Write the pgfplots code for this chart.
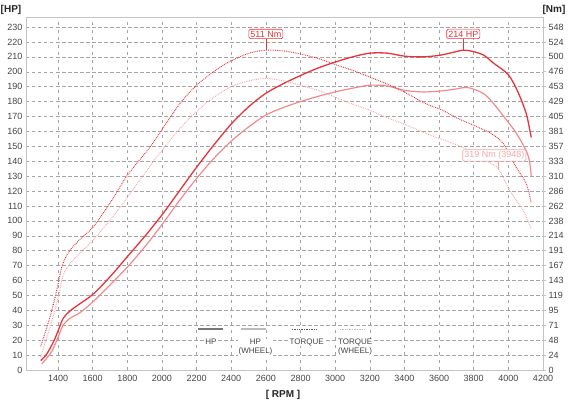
\documentclass[border=0pt]{standalone}
\usepackage{fontspec}
\setmainfont{Liberation Sans}
\usepackage{pgfplots}
\usepackage{pgfplotstable}
\pgfplotsset{compat=1.18}

\definecolor{hpred}{HTML}{E5343A}
\definecolor{hpwheel}{HTML}{F08A8E}
\definecolor{tqwheel}{HTML}{F5A5A8}
\definecolor{gridc}{HTML}{A4A4A4}
\definecolor{framec}{HTML}{C4C4C4}
\definecolor{labc}{HTML}{444444}
\definecolor{legdark}{HTML}{777777}
\definecolor{leglight}{HTML}{BBBBBB}

% engine power, HP
\pgfplotstableread{
rpm hp
1300 6.3
1330 10
1354 14.5
1380 20.5
1402 26.8
1430 34.7
1469 39.6
1527 44.5
1604 51
1700 62.5
1800 76
1900 89.5
2000 104
2100 120
2200 136
2300 151
2400 165
2500 176.5
2600 185.6
2700 192
2800 197.5
2900 202.5
3000 206.5
3100 210
3200 212.5
3300 212.5
3400 210.5
3500 210
3600 211
3680 213
3740 214.5
3800 213.5
3860 211
3912 206
4000 198
4057 186
4103 172
4122 162
4132 156
}\hptable

% wheel power, HP
\pgfplotstableread{
rpm hp
1306 4
1335 8
1363 12.3
1380 16.5
1402 22.4
1430 30.2
1469 34.7
1527 38.5
1604 46
1700 57
1800 69
1900 82.5
2000 97.5
2100 113.5
2200 128.5
2300 142
2400 153.5
2500 163
2600 171
2700 176
2800 180
2900 183.5
3000 186.5
3100 189
3200 191
3300 190.5
3400 187.6
3500 186.5
3600 187
3700 188.5
3764 189.5
3854 185.6
3912 179
3987 168
4045 159
4103 147
4122 140
4132 130
}\hpwheeltable

% engine torque, Nm
\pgfplotstableread{
rpm nm
1300 38
1354 85
1393 128
1422 165
1451 184
1470 192
1527 209
1604 229
1710 271
1800 311
1930 356
2000 384
2104 426
2200 455
2300 477
2385 492
2500 506
2600 511
2700 510
2800 505
2900 498
3000 488
3100 479
3200 468
3300 457
3400 444
3520 426
3620 415
3700 403
3800 391
3900 378
3970 362
4045 324
4103 298
4132 267
}\tqtable

% wheel torque, Nm
\pgfplotstableread{
rpm nm
1300 21
1354 69
1402 117
1430 152
1470 170
1527 187
1604 208
1748 256
1800 276
1900 314
2000 351
2104 386
2200 413
2300 436
2400 453
2500 462
2600 466
2700 462
2800 455
2900 447
3000 436
3100 425
3200 415
3300 403
3388 394
3500 381
3580 372
3700 360
3778 350
3850 338
3912 328
3948 319
4010 286
4086 255
4132 226
}\tqwheeltable

\pgfplotsset{
  enginebase/.style={
    scale only axis, width=517pt, height=353pt,
    xmin=1215, xmax=4200,
    /pgf/number format/assume math mode=true,
    tick label style={font=\fontsize{9}{10}\selectfont, text=labc},
    axis line style={framec, line width=0.8pt},
  },
}
\tikzset{
  annot/.style={draw=#1, fill=white, text=#1, rounded corners=1.5pt,
    inner sep=1.6pt, line width=0.6pt, font=\fontsize{9}{10}\selectfont},
  legtext/.style={fill=white, inner sep=0.8pt, text=labc,
    font=\fontsize{8}{9}\selectfont},
}

\begin{document}
\begin{tikzpicture}
\useasboundingbox (-26pt,-30pt) rectangle (543pt,370pt);

\begin{axis}[
    enginebase,
    ymin=0, ymax=236.75,
    xtick={1400,1600,...,4200},
    ytick={0,10,...,230},
    xticklabel style={/pgf/number format/1000 sep={}, yshift=-2pt},
    xtick pos=bottom, ytick pos=left,
    tick style={draw=none},
    grid=major,
    major grid style={gridc, line width=0.5pt},
    x grid style={dash pattern=on 3pt off 4.5pt},
    y grid style={dash pattern=on 3.5pt off 2.5pt},
  ]
  \addplot[hpwheel, line width=1.2pt, smooth] table[x=rpm, y=hp] {\hpwheeltable};
  \addplot[hpred, line width=1.3pt, smooth] table[x=rpm, y=hp] {\hptable};

  \node[annot=hpred] (hpbox) at (axis cs:3740,225.4) {214 HP};
  \draw[hpred, line width=0.6pt] (hpbox.south) -- (axis cs:3740,214.5);

  % legend
  \draw[legdark, line width=1.3pt] (axis cs:2208,27.5) -- (axis cs:2352,27.5);
  \draw[leglight, line width=1.3pt] (axis cs:2456,27.5) -- (axis cs:2601,27.5);
  \draw[black!65, line width=0.9pt, dash pattern=on 0.8pt off 0.9pt] (axis cs:2751,27.5) -- (axis cs:2889,27.5);
  \draw[leglight, line width=0.9pt, dash pattern=on 0.8pt off 0.9pt] (axis cs:3028,27.5) -- (axis cs:3172,27.5);
  \node[legtext] at (axis cs:2283,18.8) {HP};
  \node[legtext, align=center] at (axis cs:2540,15.1) {HP\\(WHEEL)};
  \node[legtext] at (axis cs:2835,18.8) {TORQUE};
  \node[legtext, align=center] at (axis cs:3115,15.1) {TORQUE\\(WHEEL)};
\end{axis}

\begin{axis}[
    enginebase,
    ymin=0, ymax=564.08,
    axis x line=none,
    axis y line*=right,
    ytick={0,23.826,47.652,71.478,95.304,119.13,142.956,166.782,190.608,214.434,238.26,262.086,285.912,309.738,333.564,357.39,381.216,405.042,428.868,452.694,476.52,500.346,524.172,547.998},
    yticklabels={0,24,48,71,95,119,143,167,191,214,238,262,286,310,333,357,381,405,429,453,476,500,524,548},
    tick align=outside,
    major tick length=3pt,
    ytick style={framec, line width=0.6pt},
    yticklabel style={xshift=-1pt},
  ]
  \addplot[tqwheel, line width=1pt, smooth, dash pattern=on 0.8pt off 1pt] table[x=rpm, y=nm] {\tqwheeltable};
  \addplot[hpred, line width=1pt, smooth, dash pattern=on 0.8pt off 1pt] table[x=rpm, y=nm] {\tqtable};

  \node[annot=hpred] (tqbox) at (axis cs:2600,537) {511 Nm};
  \draw[hpred, line width=0.6pt] (tqbox.south) -- (axis cs:2600,511);
  \node[annot=tqwheel] (twbox) at (axis cs:3919,343) {319 Nm (3948)};
  \draw[tqwheel, line width=0.6pt] (axis cs:3941,334) -- (axis cs:3941,319);
\end{axis}

\node[font=\bfseries\fontsize{10}{11}\selectfont, text=black!85] at (-15pt,360pt) {[HP]};
\node[font=\bfseries\fontsize{10}{11}\selectfont, text=black!85] at (528pt,360pt) {[Nm]};
\node[font=\bfseries\fontsize{10}{11}\selectfont, text=black!85] at (257pt,-24.5pt) {[ RPM ]};
\end{tikzpicture}
\end{document}
